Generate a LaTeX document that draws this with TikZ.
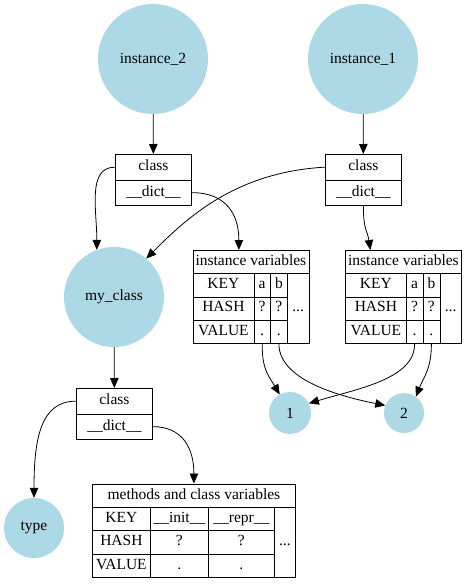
\documentclass[tikz,border=0pt]{standalone}
\usepackage{fontspec}
\setmainfont{Liberation Serif}
\usetikzlibrary{arrows.meta}
\definecolor{objblue}{RGB}{173,216,230}

\tikzset{
  obj/.style={circle, fill=objblue, inner sep=0pt},
  cell/.style={draw, rectangle, anchor=north west, inner sep=0pt, line width=0.8pt, text height=0.68em, text depth=0pt},
  link/.style={draw, line width=0.8pt, -{Triangle[length=10pt,width=8.5pt]}}
}

\begin{document}
\begin{tikzpicture}[x=1pt, y=-1pt, font=\fontsize{15.5}{18}\selectfont]
\useasboundingbox (0,0) rectangle (474,586);
\newcommand{\clsbox}[3]{% prefix, left x, top y
  \node[cell, minimum width=76pt, minimum height=25.5pt] (#1class) at (#2, #3) {class};
  \node[cell, minimum width=76pt, minimum height=25.5pt] (#1dict) at (#2, #3+25.5) {\_\_dict\_\_};
}
\newcommand{\ivtable}[2]{% prefix, left x
  \node[cell, minimum width=116pt, minimum height=23.25pt] (#1title) at (#2, 250) {instance variables};
  \foreach \lbl/\ca/\cb/\rn [count=\r from 0] in {KEY/a/b/k, HASH/?/?/h, VALUE/././v} {
    \node[cell, minimum width=61pt, minimum height=23.25pt] (#1\rn l) at (#2, 273.25+23.25*\r) {\lbl};
    \node[cell, minimum width=16.5pt, minimum height=23.25pt] (#1\rn a) at (#2+61, 273.25+23.25*\r) {\ca};
    \node[cell, minimum width=17pt, minimum height=23.25pt] (#1\rn b) at (#2+77.5, 273.25+23.25*\r) {\cb};
  }
  \node[cell, minimum width=21.5pt, minimum height=69.75pt] (#1dots) at (#2+94.5, 273.25) {...};
}

% objects
\node[obj, minimum size=110pt] (inst2) at (153, 59) {instance\_2};
\node[obj, minimum size=110pt] (inst1) at (363, 59) {instance\_1};
\node[obj, minimum size=100pt] (myclass) at (114, 297) {my\_class};
\node[obj, minimum size=42pt] (one) at (290, 413) {1};
\node[obj, minimum size=40pt] (two) at (404, 413) {2};
\node[obj, minimum size=60pt] (type) at (34, 528) {type};

% class / dict boxes
\clsbox{i2}{115}{154}
\clsbox{i1}{325}{154}
\clsbox{mc}{76}{388}

% dict tables
\ivtable{ivL}{192.5}
\ivtable{ivR}{345}
\node[cell, minimum width=203pt, minimum height=23.5pt] (mvtitle) at (92, 483.5) {methods and class variables};
\foreach \lbl/\ci/\cr/\rn [count=\r from 0] in {KEY/\_\_init\_\_/\_\_repr\_\_/k, HASH/?/?/h, VALUE/././v} {
  \node[cell, minimum width=58pt, minimum height=23.3pt] (mv\rn l) at (92, 507+23.3*\r) {\lbl};
  \node[cell, minimum width=58pt, minimum height=23.3pt] (mv\rn i) at (150, 507+23.3*\r) {\ci};
  \node[cell, minimum width=66pt, minimum height=23.3pt] (mv\rn r) at (208, 507+23.3*\r) {\cr};
}
\node[cell, minimum width=21pt, minimum height=69.9pt] (mvdots) at (274, 507) {...};

% references
\draw[link] (inst2) -- (i2class);
\draw[link] (inst1) -- (i1class);
\draw[link] (myclass) -- (mcclass);
\draw[link] (i2class.west) .. controls +(-28,0) and +(0,-40) .. (myclass.110);
\draw[link] (i2dict.east) .. controls +(35,0) and +(0,-35) .. (ivLtitle.135);
\draw[link] (i1class.west) .. controls +(-90,5) and +(40,-40) .. (myclass.50);
\draw[link] (i1dict.south) .. controls +(0,25) and +(-3,-20) .. (ivRtitle.160);
\draw[link] (mcclass.west) .. controls +(-35,0) and +(0,-60) .. (type.north);
\draw[link] (mcdict.east) .. controls +(30,0) and +(0,-35) .. (mvtitle.north);
\draw[link] (ivLva.south) .. controls +(0,25) and +(-12,-20) .. (one.119);
\draw[link] (ivLvb.south) .. controls +(0,35) and +(-50,-10) .. (two.158);
\draw[link] (ivRva.south) .. controls +(0,35) and +(50,-15) .. (one.27);
\draw[link] (ivRvb.south) .. controls +(0,25) and +(8,-20) .. (two.54);
\end{tikzpicture}
\end{document}
